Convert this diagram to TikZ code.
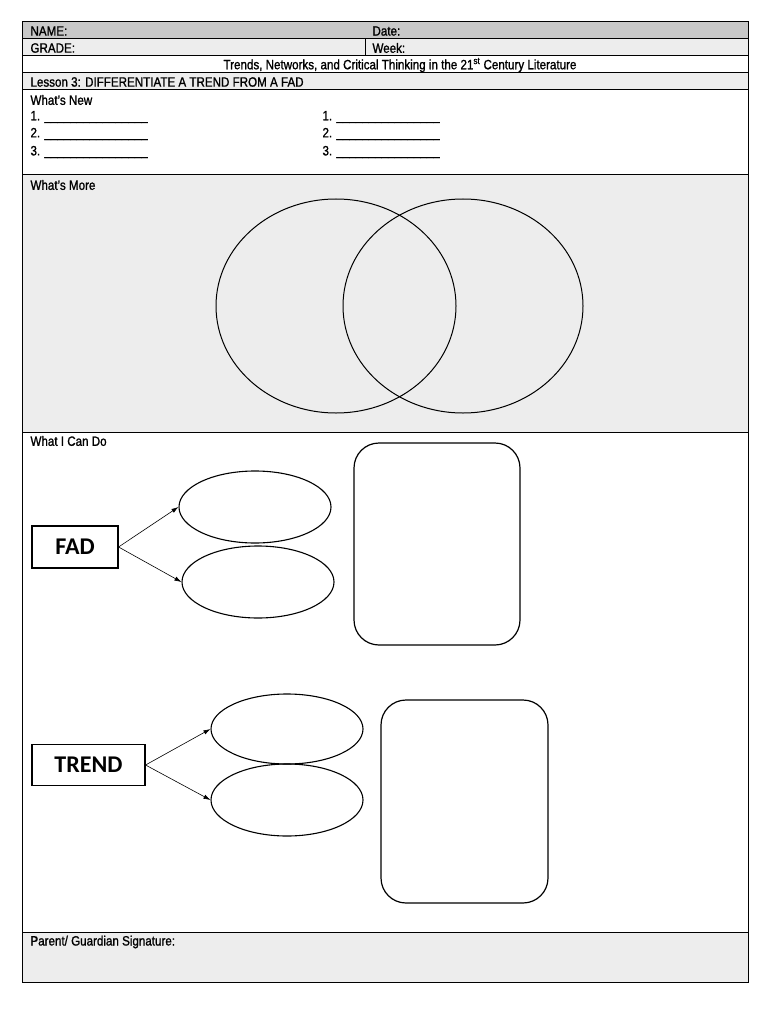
\documentclass[tikz,border=0pt]{standalone}
\usepackage{fontspec}
\setmainfont{Liberation Sans}[FakeStretch=0.86,FakeBold=1.2]
\newfontfamily\carlitofont{Carlito}
\usetikzlibrary{arrows.meta,shapes.geometric}
\definecolor{gA}{HTML}{C8C8C8}
\definecolor{gB}{HTML}{EDEDED}
\begin{document}
\begin{tikzpicture}[x=1pt,y=-1pt,line width=1pt,
  lbl/.style={anchor=west,inner sep=0pt,font=\fontsize{13.5}{14}\selectfont},
  oval/.style={draw,ellipse,line width=1.1pt},
  card/.style={draw,rounded corners=25pt,line width=1.2pt},
  kbox/.style={draw,line width=1.1pt,font=\carlitofont\bfseries\fontsize{24}{26}\selectfont},
  arr/.style={-{Latex[length=7pt,width=4.5pt]},line width=0.6pt}]
\useasboundingbox (0,0) rectangle (768,1024);
\fill[white] (0,0) rectangle (768,1024);
\fill[gA] (22,22) rectangle (748,39);
\fill[gB] (22,39) rectangle (748,56);
\fill[gB] (22,73) rectangle (748,90);
\fill[gB] (22,175) rectangle (748,432);
\fill[gB] (22,932) rectangle (748,982);
\draw (22,22) rectangle (748,982);
\foreach \y in {39,56,73,90,175,432,932} \draw (22,\y) -- (748,\y);
\draw (365,39) -- (365,56);
\node[lbl] (name) at (30,31) {NAME:};
\node[lbl] (date) at (372,31) {Date:};
\node[lbl] (grade) at (30,48) {GRADE:};
\node[lbl] (week) at (372,48) {Week:};
\node[lbl,anchor=center] (title) at (400,65) {Trends, Networks, and Critical Thinking in the 21\textsuperscript{st} Century Literature};
\node[lbl] (lesson) at (30,82) {Lesson 3: DIFFERENTIATE A TREND FROM A FAD};
\node[lbl] (new) at (30,100) {What's New};
\foreach \i/\y in {1/117,2/134,3/152}{
  \node[lbl] (a\i) at (30,\y) {\i. \_\_\_\_\_\_\_\_\_\_\_\_\_\_\_\_};
  \node[lbl] (b\i) at (322,\y) {\i. \_\_\_\_\_\_\_\_\_\_\_\_\_\_\_\_};
}
\node[lbl] (more) at (30,185) {What's More};
\draw (336,306) ellipse[x radius=120,y radius=107];
\draw (463,306) ellipse[x radius=120,y radius=107];
\node[lbl] (cando) at (30,441) {What I Can Do};
\node[kbox,minimum width=86pt,minimum height=42pt] (fad) at (75,547) {FAD};
\node[oval,minimum width=152pt,minimum height=72pt] (f1) at (255,507) {};
\node[oval,minimum width=152pt,minimum height=72pt] (f2) at (258,582) {};
\draw[card] (354,443) rectangle (520,645);
\draw[arr] (fad.east) -- (f1.west);
\draw[arr] (fad.east) -- (f2.west);
\node[kbox,minimum width=113pt,minimum height=41pt] (trend) at (88.5,765) {TREND};
\node[oval,minimum width=152pt,minimum height=70pt] (t1) at (287,729) {};
\node[oval,minimum width=152pt,minimum height=72pt] (t2) at (287,800) {};
\draw[card] (381,700) rectangle (548,903);
\draw[arr] (trend.east) -- (t1.west);
\draw[arr] (trend.east) -- (t2.west);
\node[lbl] (sig) at (30,942) {Parent/ Guardian Signature:};
\end{tikzpicture}
\end{document}
